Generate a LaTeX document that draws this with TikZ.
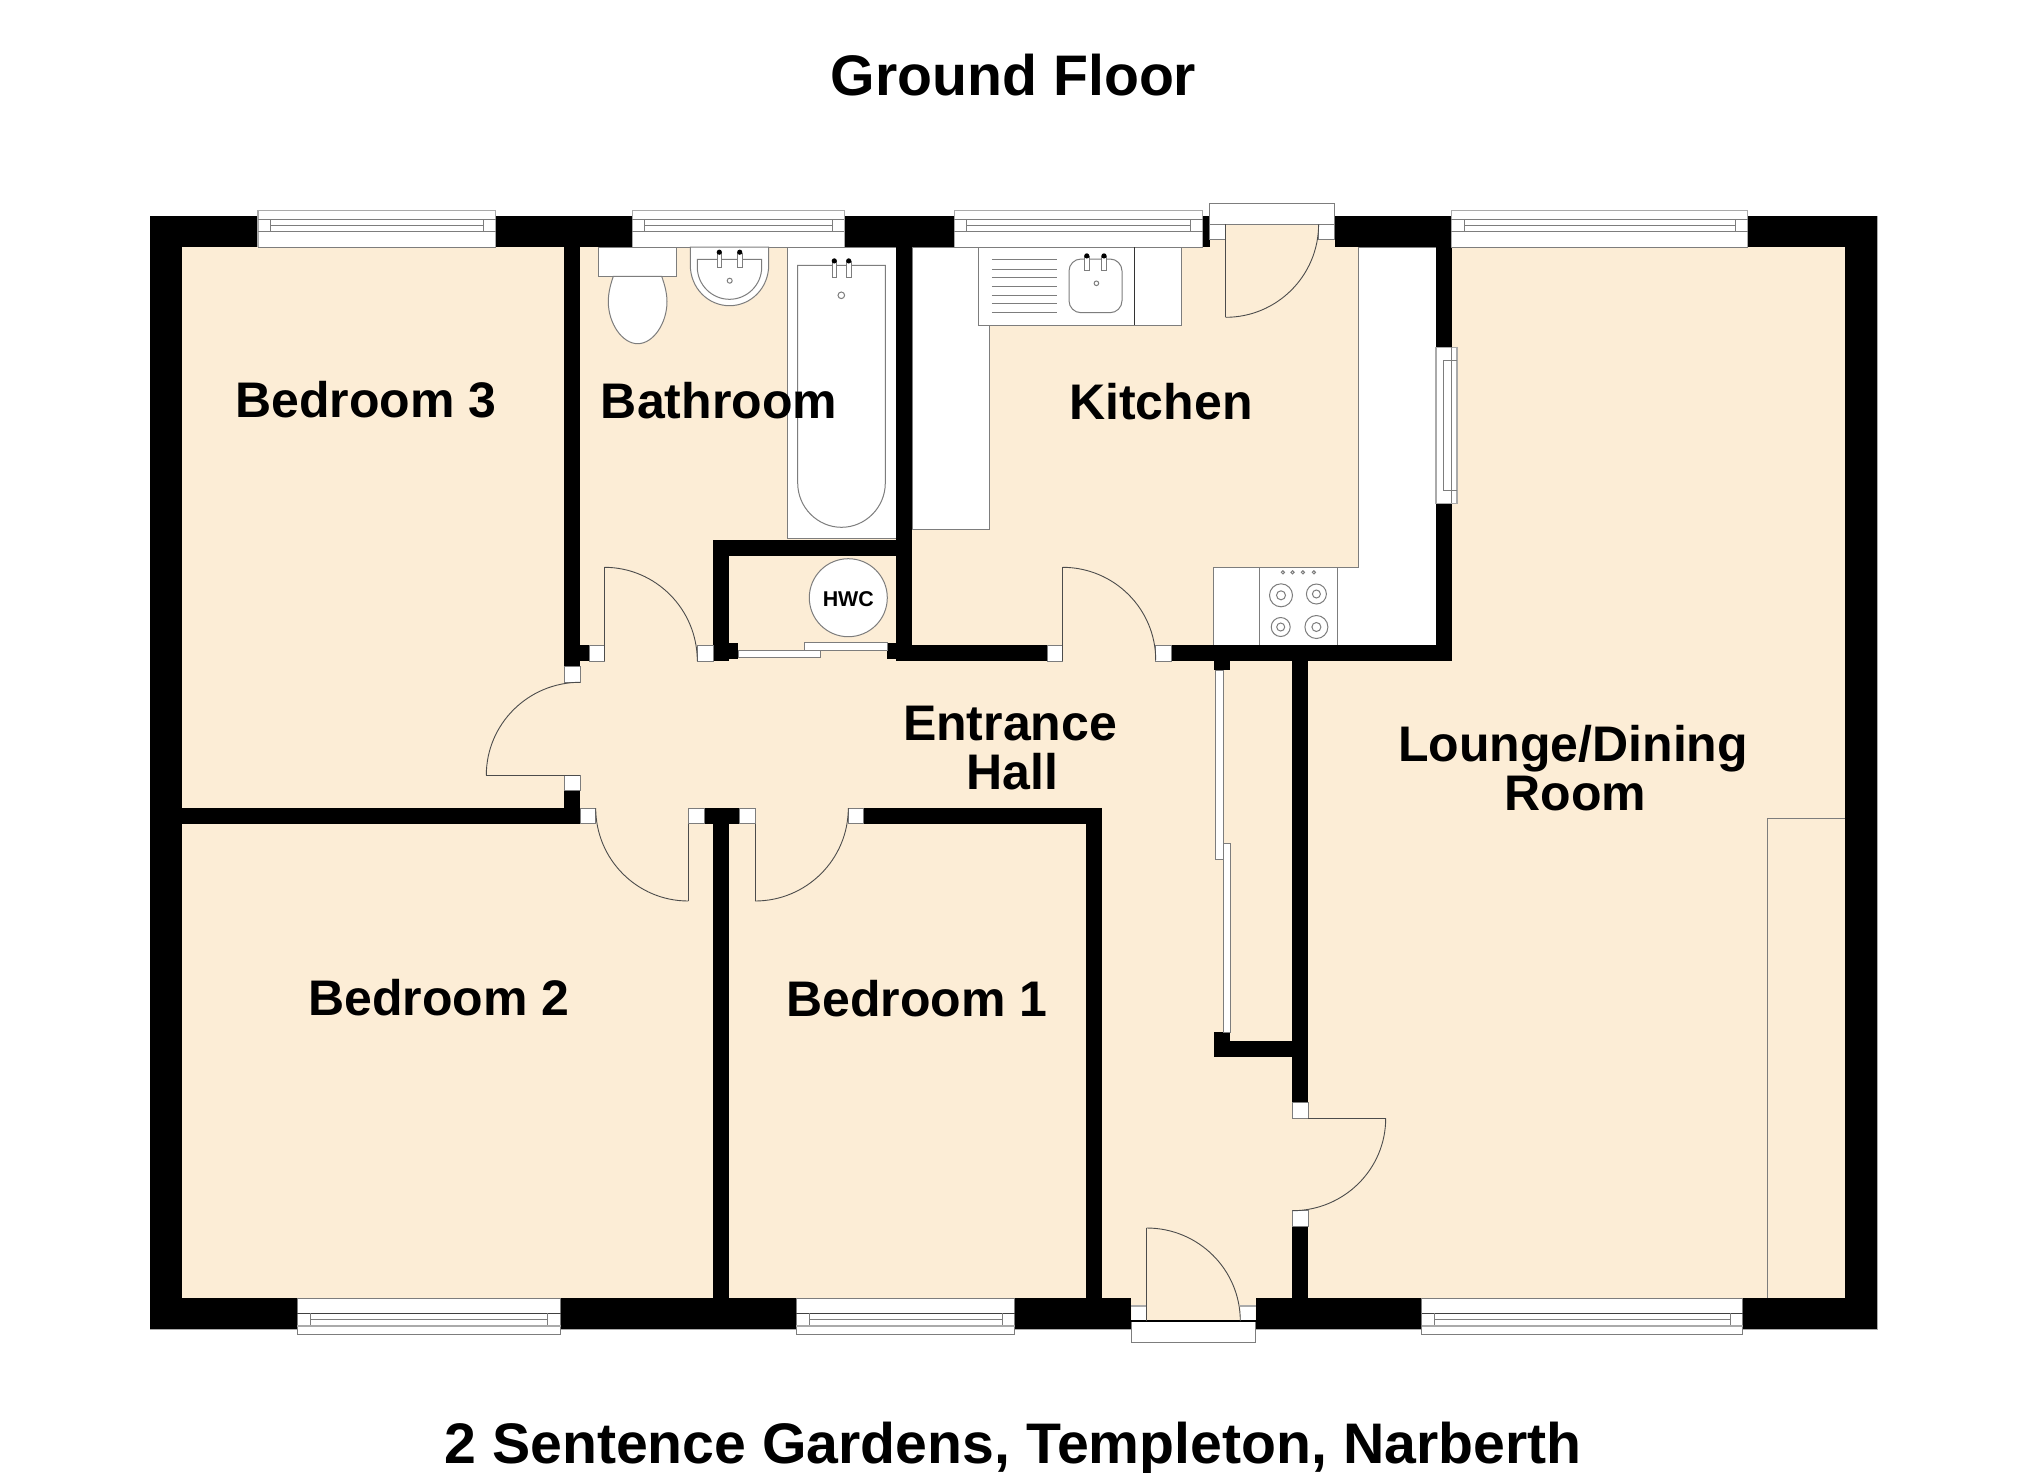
\documentclass[tikz,border=0pt]{standalone}
\usepackage{fontspec}
\setmainfont{Liberation Sans}
\definecolor{cream}{RGB}{252,237,214}
\definecolor{edge}{RGB}{125,125,125}
\definecolor{softedge}{RGB}{170,170,170}
\tikzset{
  wall/.style={fill=black,draw=none},
  unit/.style={fill=white,draw=edge,line width=0.5pt},
  fine/.style={draw=edge,line width=0.5pt},
  leaf/.style={draw=black!70,line width=0.45pt},
  dark/.style={draw=black!75,line width=0.45pt},
  roomlabel/.style={font=\bfseries\fontsize{25}{28}\selectfont,anchor=base,inner sep=0pt,text=black},
  biglabel/.style={font=\bfseries\fontsize{28.6}{32}\selectfont,anchor=base,inner sep=0pt,text=black},
}
% quarter arc: start, centre, end
\newcommand{\qarc}[6]{%
  \pgfmathsetmacro{\qax}{#1+0.5523*(#5-#3)}%
  \pgfmathsetmacro{\qay}{#2+0.5523*(#6-#4)}%
  \pgfmathsetmacro{\qbx}{#5+0.5523*(#1-#3)}%
  \pgfmathsetmacro{\qby}{#6+0.5523*(#2-#4)}%
  \draw[leaf] (#1,#2) .. controls (\qax,\qay) and (\qbx,\qby) .. (#5,#6);}
% window in the top wall
\newcommand{\topwin}[4]{%
  \fill[white] (#1,210.7) rectangle (#4,247);
  \draw[softedge,line width=0.7pt] (#1,247) -- (#1,210.7) -- (#4,210.7) -- (#4,247);
  \draw[fine] (#1,247.3) -- (#4,247.3);
  \draw[fine] (#1,219.3) -- (#4,219.3) (#2,225.3) -- (#3,225.3) (#1,231.3) -- (#4,231.3) (#2,219.3) -- (#2,231.3) (#3,219.3) -- (#3,231.3);}
% window in the bottom wall
\newcommand{\botwin}[4]{%
  \fill[white] (#1,1298) rectangle (#4,1334.3);
  \draw[fine] (#1,1298) -- (#4,1298) (#1,1298) -- (#1,1334.3) -- (#4,1334.3) -- (#4,1298);
  \draw[dark] (#1,1313.3) -- (#4,1313.3);
  \draw[fine] (#2,1319.3) -- (#3,1319.3) (#2,1313.3) -- (#2,1326) (#3,1313.3) -- (#3,1326);
  \draw[softedge,line width=0.9pt] (#1,1326) -- (#4,1326);}
\newcommand{\jamb}[4]{\filldraw[unit] (#1,#2) rectangle (#3,#4);}
\newcommand{\tap}[3]{\filldraw[unit,line width=0.4pt] (#1-2.3,#2) rectangle (#1+2.3,#3); \fill[black] (#1,#2-0.8) circle[radius=2.6];}
\begin{document}
\begin{tikzpicture}[x=0.5pt,y=-0.5pt]
\useasboundingbox (0,0) rectangle (2025,1473);
\fill[white] (0,0) rectangle (2025,1473);
% outer shell and floor
\fill[black] (150,216) rectangle (1877,1329.3);
\draw[softedge,line width=0.5pt] (1877,216) -- (1877,1329.3) -- (150,1329.3);
\fill[cream] (181.7,247.3) rectangle (1845,1298);
% fitted units
\filldraw[unit] (912,247) rectangle (989.3,529.3);
\filldraw[unit] (1358.2,247) -- (1358.2,567.3) -- (1213.6,567.3) -- (1213.6,645) -- (1436,645) -- (1436,247) -- cycle;
\draw[fine] (1259.3,567.3) -- (1259.3,645) (1337.5,567.3) -- (1337.5,645);
\filldraw[unit] (787.3,247) rectangle (896,538.3);
\filldraw[fill=cream,draw=edge,line width=0.5pt] (1767.3,1298) -- (1767.3,818) -- (1845,818);
% walls
\fill[wall] (564,247) rectangle (580,667);
\fill[wall] (580,645) rectangle (589,661);
\fill[wall] (564,790.7) rectangle (580,824);
\fill[wall] (181,808) rectangle (564,823.7);
\fill[wall] (704,808) rectangle (739.7,823.7);
\fill[wall] (713,823) rectangle (728.7,1298);
\fill[wall] (863.3,808) rectangle (1102,823.7);
\fill[wall] (1086,808) rectangle (1102,1298);
\fill[wall] (713,540) rectangle (912,556);
\fill[wall] (713,540) rectangle (729,661);
\fill[wall] (729,643.3) rectangle (738,659.3);
\fill[wall] (896,247) rectangle (912,661);
\fill[wall] (887,643.3) rectangle (896,659.3);
\fill[wall] (896,645) rectangle (1047,661.3);
\fill[wall] (1171,645) rectangle (1452,661.3);
\fill[wall] (1436,216) rectangle (1452,661.3);
\fill[wall] (1214,661) rectangle (1230,670);
\fill[wall] (1214,1032.3) rectangle (1230,1057.3);
\fill[wall] (1214,1041.3) rectangle (1292,1057.3);
\fill[wall] (1292,661) rectangle (1308,1102.3);
\fill[wall] (1292,1226.7) rectangle (1308,1298);
% door jambs
\jamb{589}{645.3}{604.3}{661}
\jamb{697.3}{645.3}{713}{661}
\jamb{564}{666.7}{580}{682.3}
\jamb{564}{775.3}{580}{790.7}
\jamb{580}{808}{595.7}{823.7}
\jamb{688.3}{808}{704}{823.7}
\jamb{739.7}{808}{755}{823.7}
\jamb{848.3}{808}{863.3}{823.7}
\jamb{1047}{645.3}{1062.5}{661}
\jamb{1155.7}{645.3}{1171}{661}
\jamb{1292.3}{1102.3}{1308}{1118.3}
\jamb{1292.3}{1210.7}{1308}{1226.7}
% door leaves
\draw[leaf] (604.3,661) -- (604.3,567.3);
\qarc{604.3}{567.3}{604.3}{661}{697.3}{661}
\draw[leaf] (580,775.3) -- (486.3,775.3);
\qarc{486.3}{775.3}{580}{775.3}{580}{682.3}
\draw[leaf] (688.3,823.7) -- (688.3,901);
\qarc{688.3}{901}{688.3}{808}{595.7}{808}
\draw[leaf] (755,823.7) -- (755,901);
\qarc{755}{901}{755}{808}{848.3}{808}
\draw[leaf] (1062.5,661) -- (1062.5,567.3);
\qarc{1062.5}{567.3}{1062.5}{660}{1155.7}{660}
\draw[leaf] (1308,1118.3) -- (1385.7,1118.3);
\qarc{1385.7}{1118.3}{1292.3}{1118.3}{1292.3}{1210.7}
% cupboard sliding panels
\filldraw[unit] (738,650) rectangle (820.3,657.3);
\filldraw[unit] (804.3,642) rectangle (887,650);
\filldraw[unit] (1215,670) rectangle (1223,859.3);
\filldraw[unit] (1223,843.3) rectangle (1230.3,1032.3);
% HWC
\filldraw[unit] (848.3,597.7) circle[radius=39];
\node[font=\bfseries\fontsize{10.7}{12}\selectfont,inner sep=0pt] (hwc) at (848.3,598.7) {HWC};
% windows
\topwin{258}{270}{483.3}{495.7}
\topwin{632.3}{644.3}{832}{844.3}
\topwin{954.3}{966.8}{1190.4}{1202.5}
\topwin{1451.3}{1464}{1735.3}{1747.7}
\botwin{297.3}{310}{547.3}{560.6}
\botwin{796.3}{809}{1002.4}{1014.7}
\botwin{1421.7}{1434}{1730}{1742.7}
% side window kitchen to lounge
\fill[white] (1436,347.3) rectangle (1457,503.3);
\draw[softedge,line width=0.6pt] (1436,347.3) -- (1457,347.3) -- (1457,503.3) -- (1436,503.3) -- cycle;
\draw[fine] (1443.6,360) -- (1443.6,490.7) (1451.5,347.3) -- (1451.5,503.3) (1443.6,360) -- (1457,360) (1443.6,490.7) -- (1457,490.7);
% back door
\fill[cream] (1209.6,224.3) rectangle (1334.6,247.3);
\filldraw[unit] (1209.6,203.3) rectangle (1334.6,224.3);
\jamb{1209.6}{224.3}{1225.7}{239.3}
\jamb{1318.6}{224.3}{1334.6}{239.3}
\draw[leaf] (1225.7,224.3) -- (1225.7,317.3);
\qarc{1225.7}{317.3}{1225.7}{224.3}{1318.6}{224.3}
% front door
\fill[cream] (1131.3,1298) rectangle (1255.7,1321);
\fill[white] (1131.3,1306) rectangle (1146.7,1321) (1240.3,1306) rectangle (1255.7,1321);
\draw[softedge,line width=0.9pt] (1131.3,1306) -- (1146.7,1306) (1240.3,1306) -- (1255.7,1306);
\filldraw[unit] (1131.3,1321) rectangle (1255.7,1342.3);
\draw[black,line width=0.6pt] (1131.3,1321) -- (1255.7,1321);
\draw[leaf] (1146.7,1321) -- (1146.7,1228);
\qarc{1146.7}{1228}{1146.7}{1321}{1240.3}{1321}
% bath
\draw[fine] (797.7,265.3) -- (885.3,265.3) -- (885.3,483) .. controls (885.3,507.3) and (865.5,527.3) .. (841.5,527.3) .. controls (817.5,527.3) and (797.7,507.3) .. (797.7,483) -- cycle;
\tap{834.3}{261.7}{277.3}
\tap{848.7}{261.7}{277.3}
\draw[fine] (841.3,295.3) circle[radius=3.3];
% toilet
\filldraw[unit] (598.3,247) rectangle (676.7,276.3);
\filldraw[unit] (613.3,276.3) .. controls (611,283) and (608.3,292) .. (608.3,301.7) .. controls (608.3,323) and (622,343.7) .. (637.7,343.7) .. controls (653.4,343.7) and (667,323) .. (667,301.7) .. controls (667,292) and (664,283) .. (661.7,276.3) -- cycle;
% basin
\filldraw[unit] (690.3,247) -- (690.3,265) .. controls (690.3,288) and (708,305.7) .. (729.5,305.7) .. controls (751,305.7) and (768.7,288) .. (768.7,265) -- (768.7,247) -- cycle;
\draw[fine] (697.3,259.3) -- (761.7,259.3) -- (761.7,267) .. controls (761.7,285) and (747,299.3) .. (729.5,299.3) .. controls (712,299.3) and (697.3,285) .. (697.3,267) -- cycle;
\tap{719.3}{253}{267.3}
\tap{739.7}{253}{267.3}
\draw[fine] (729.7,280.7) circle[radius=2.5];
% kitchen sink
\filldraw[unit] (978.6,247) rectangle (1181.4,325);
\draw[black!80,line width=0.5pt] (1134.3,247) -- (1134.3,325);
\foreach \yy in {259.3,269,277.3,286.3,295,303.3,312.7}{\draw[fine] (991.8,\yy) -- (1057,\yy);}
\draw[fine,rounded corners=6pt] (1069,259) rectangle (1122,312.7);
\tap{1086.8}{256.7}{270.7}
\tap{1104}{256.7}{270.7}
\draw[fine] (1096.4,283.3) circle[radius=2.3];
% hob
\foreach \xx in {1282.9,1292.5,1302.9,1313.9}{\draw[fine] (\xx,572.3) circle[radius=1.6];}
\draw[fine] (1281,595.3) circle[radius=11.5] (1281,595.3) circle[radius=4.5];
\draw[fine] (1316.4,594) circle[radius=10] (1316.4,594) circle[radius=4];
\draw[fine] (1280.7,627) circle[radius=9.5] (1280.7,627) circle[radius=4];
\draw[fine] (1316.4,627) circle[radius=11.5] (1316.4,627) circle[radius=4.5];
% labels
\node[biglabel] (title) at (1013.5,95) {Ground Floor};
\node[biglabel] (address) at (1013,1463) {2 Sentence Gardens, Templeton, Narberth};
\node[roomlabel] (bed3) at (366,417) {Bedroom 3};
\node[roomlabel] (bath) at (719,418.5) {Bathroom};
\node[roomlabel] (kit) at (1161,419) {Kitchen};
\node[roomlabel] (ent) at (1010,740.5) {Entrance};
\node[roomlabel] (hall) at (1012.5,789.5) {Hall};
\node[roomlabel] (lou) at (1573,761) {Lounge/Dining};
\node[roomlabel] (room) at (1575.5,810) {Room};
\node[roomlabel] (bed2) at (439,1015) {Bedroom 2};
\node[roomlabel] (bed1) at (917,1016.5) {Bedroom 1};
\end{tikzpicture}
\end{document}
